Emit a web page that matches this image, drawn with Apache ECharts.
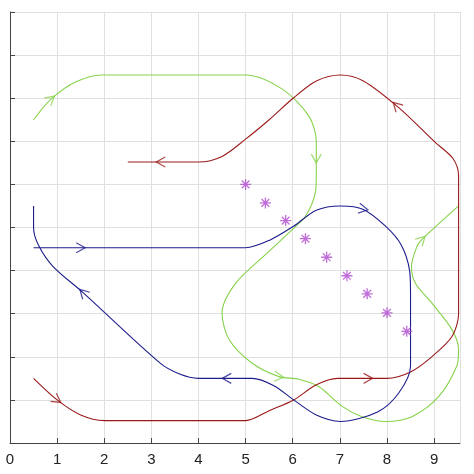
<!DOCTYPE html>
<html><head><meta charset="utf-8">
<script src="https://cdn.jsdelivr.net/npm/echarts@6/dist/echarts.min.js"></script>
<style>html,body{margin:0;padding:0;background:#fff}#c{width:474px;height:474px}</style>
</head><body><div id="c"></div>
<script>
const xTicks = [0,1,2,3,4,5,6,7,8,9];
const greenPath = [[0.5,7.5],[0.87,7.98],[1.4,8.38],[1.95,8.54],[5.0,8.54],[5.78,8.21],[6.34,7.59],[6.5,7.0],[6.5,6.2],[6.48,5.81],[6.27,5.26],[5.99,4.95],[5.42,4.37],[4.79,3.71],[4.5,3.02],[4.65,2.4],[5.14,1.85],[5.71,1.54],[6.13,1.48],[6.55,1.31],[7.05,0.85],[7.47,0.61],[7.97,0.5],[8.53,0.61],[9.1,1.08],[9.48,1.78],[9.52,2.16],[9.38,2.63],[8.95,3.25],[8.6,3.71],[8.52,4.1],[8.64,4.57],[8.74,4.72],[9.52,5.5]];
const redPath = [[0.5,1.5],[1.0,1.0],[1.5,0.65],[2.0,0.52],[5.0,0.52],[5.5,0.75],[6.02,1.0],[6.5,1.35],[6.95,1.5],[8.0,1.5],[8.5,1.65],[8.95,2.0],[9.38,2.47],[9.52,3.0],[9.52,6.2],[9.4,6.6],[9.03,6.97],[8.25,7.78],[7.5,8.4],[7.01,8.54],[6.5,8.4],[6.02,8.01],[5.5,7.5],[5.0,7.05],[4.5,6.65],[4.0,6.52],[2.5,6.52]];
const bluePath = [[0.5,4.53],[5.0,4.53],[5.5,4.7],[6.02,5.03],[6.5,5.4],[7.01,5.5],[7.5,5.42],[7.97,5.03],[8.3,4.6],[8.48,4.0],[8.5,3.5],[8.5,1.78],[8.25,1.16],[7.8,0.72],[7.01,0.5],[6.5,0.65],[6.02,1.0],[5.6,1.33],[5.14,1.5],[4.0,1.5],[3.6,1.6],[3.18,1.86],[1.55,3.49],[0.91,4.1],[0.6,4.6],[0.5,5.0],[0.5,5.5]];
const stars = [[5,6],[5.42,5.57],[5.85,5.16],[6.27,4.74],[6.72,4.31],[7.15,3.88],[7.58,3.46],[8.0,3.02],[8.42,2.59]];
// arrows: [x, y, angle (deg, CCW from +x)]
const greenArrows = [[0.87,7.98,40],[6.5,6.6,-90],[5.71,1.54,-5],[8.74,4.72,45]];
const redArrows = [[1.0,1.0,-35],[3.2,6.52,180],[7.6,1.5,0],[8.2,7.83,135]];
const blueArrows = [[1.5,4.53,0],[7.5,5.43,-10],[4.6,1.5,180],[1.55,3.49,135]];

const colors = {green:'#86d24a', red:'#9a1a1a', blue:'#1c1c8c', star:'#b048d0'};
const arrowPath = 'path://M0,0 L10,5 L0,10';
function line(data,c){return {type:'line',data,smooth:0.3,symbol:'none',lineStyle:{color:c,width:1.1},z:2};}
function arrows(data,c){return {type:'scatter',z:3,data:data.map(a=>({value:[a[0],a[1]],symbolRotate:a[2]})),
  symbol:arrowPath,symbolSize:[9,10],itemStyle:{color:'rgba(0,0,0,0)',borderColor:c,borderWidth:1.2}};}
const chart = echarts.init(document.getElementById('c'));
chart.setOption({
  animation:false,
  grid:{left:10,right:14,top:12,bottom:31},
  xAxis:{type:'value',min:0,max:9.55,interval:1,
    axisLine:{lineStyle:{color:'#444'}},axisTick:{inside:true,length:5,lineStyle:{color:'#444'}},
    axisLabel:{showMaxLabel:false,color:'#222',fontSize:15,fontFamily:'Liberation Sans',margin:9,
      formatter:v=>xTicks.includes(v)?String(v):''},
    splitLine:{show:true,lineStyle:{color:'#e0e0e0'}}},
  yAxis:{type:'value',min:0,max:10,interval:1,
    axisLine:{show:true,lineStyle:{color:'#444'}},axisTick:{inside:true,length:5,lineStyle:{color:'#444'}},
    axisLabel:{show:false},splitLine:{show:true,lineStyle:{color:'#e0e0e0'}}},
  series:[
    line(greenPath,colors.green),line(redPath,colors.red),line(bluePath,colors.blue),
    arrows(greenArrows,colors.green),arrows(redArrows,colors.red),arrows(blueArrows,colors.blue),
    {type:'scatter',data:stars,z:4,symbol:'path://M5,0 L5,10 M0,5 L10,5 M1.5,1.5 L8.5,8.5 M8.5,1.5 L1.5,8.5',
     symbolSize:11,itemStyle:{color:'rgba(0,0,0,0)',borderColor:colors.star,borderWidth:1.3}}
  ]
});
</script></body></html>
